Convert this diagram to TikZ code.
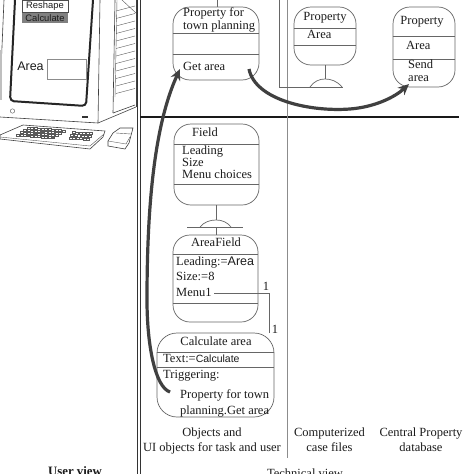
\documentclass[tikz,border=0pt]{standalone}
\usepackage{fontspec}
\setmainfont{Liberation Serif}
\newfontfamily\uifont{Liberation Sans}
\usetikzlibrary{arrows.meta}
\definecolor{ink}{HTML}{1C1C1C}
\definecolor{rule}{HTML}{666666}
\definecolor{flow}{HTML}{404040}
\tikzset{
  objbox/.style={draw=rule,line width=.7pt,rounded corners=17pt,inner sep=0pt},
  divider/.style={draw=rule,line width=.7pt},
  link/.style={draw=rule,line width=.7pt},
  lab/.style={font=\fontsize{12.5}{14}\selectfont,text=ink,inner sep=0pt,anchor=base west},
  labc/.style={font=\fontsize{12.5}{14}\selectfont,text=ink,inner sep=0pt,anchor=base},
  uilab/.style={font=\uifont\fontsize{9.400}{11}\selectfont,text=ink,inner sep=0pt},
  flowarrow/.style={draw=flow,line width=3.2pt,-{Stealth[length=11pt,width=10pt]}},
  pc/.style={draw=black!75,line width=.6pt},
  pcthin/.style={draw=black!65,line width=.4pt},
}
\begin{document}
\begin{tikzpicture}[x=1pt,y=-1pt]
\path[use as bounding box,fill=white] (0,0) rectangle (474,474);
\begin{scope}
\clip (0,0) rectangle (474,474);

% computer: case and screen
\draw[pc] (4,0) -- (1,70);
\fill[black!25] (0,50) rectangle (2,100);
\draw[pc] (100,0) -- (98,123);
\draw[pc] (115,0) -- (113,113);
\draw[pc] (113,113) -- (135,105);
\draw[pc] (0,117) -- (98,123) -- (136,107);
\draw[pc] (136,0) -- (136,107);
\draw[draw=black!85,line width=2pt,rounded corners=4pt] (15,0) -- (10,101) -- (86,106) -- (93,0);
\draw[pcthin] (12.500,111) circle (2.2);
\fill[black!80] (82,116) rectangle (88,118);
% ventilation slats
\foreach \k in {0,...,11}
  \draw[pcthin] (116,{11+\k*7.5}) -- (135,{6+\k*7.5});
\draw[pcthin] (117,0) -- (115,97);
\draw[pcthin] (122,0) -- (136,13);
% screen content
\node[draw=black!70,line width=.5pt,fill=white,minimum width=46pt,minimum height=12pt,inner sep=0pt,uilab] (reshape) at (45,6) {Reshape};
\node[fill=black!50,minimum width=46pt,minimum height=10.500pt,inner sep=0pt,uilab] (calculate) at (45,18) {Calculate};
\node[font=\uifont\fontsize{12.500}{15}\selectfont,text=ink,inner sep=0pt] (arealabel) at (30.500,66) {Area};
\node[draw=black!45,line width=.7pt,minimum width=39pt,minimum height=20pt,inner sep=0pt] (areabox) at (66.500,69) {};
% keyboard
\draw[pc,fill=white] (0,135) -- (23,125) -- (105,131) -- (103,137) -- (90,149) -- (0,139) -- cycle;
\draw[pcthin] (0,137) -- (90,146) -- (104,134);
\foreach \r in {0,1,2,3}
  \foreach \c in {0,...,10}
    \draw[pcthin,fill=white] ({27-3.5*\r+\c*3.5},{127+\r*2.3+\c*.28}) rectangle ++(3,1.9);
\foreach \r in {0,1,2}
  \foreach \c in {0,...,5}
    \draw[pcthin,fill=white] ({72-\r*1.6+\c*3.5},{131.500+\r*2.7+\c*.2}) rectangle ++(3,2.1);
% mouse
\draw[pc,fill=white] (120,128) -- (133,128) -- (129,143) -- (125,149) -- (108,146) -- (108,141) -- (113,133) -- cycle;
\draw[pcthin] (108,141) -- (126,144) -- (130,137);
\draw[pcthin] (116,133) -- (131,134);

% view separators
\draw[draw=black!80,line width=.8pt] (137.500,0) -- (137.500,474);
\draw[draw=black!80,line width=.8pt] (140.500,0) -- (140.500,474);
\coordinate (ruleL) at (140,117);
\coordinate (ruleR) at (459,117);
\draw[draw=black!90,line width=1.2pt] (ruleL) -- (ruleR);
\coordinate (colTop) at (287.500,0);
\coordinate (colBot) at (287.500,458);
\draw[draw=black!45,line width=.7pt] (colTop) -- (colBot);

% Property for town planning
\node[objbox,minimum width=86pt,minimum height=73pt] (planning) at (216,43.500) {};
\draw[divider] (planning.west |- 0,33) -- (planning.east |- 0,33);
\draw[divider] (planning.west |- 0,54) -- (planning.east |- 0,54);
\node[lab] (planningA) at (183,16.700) {Property for};
\node[lab] (planningB) at (183,29.300) {town planning};
\node[lab] (planningC) at (183,70.700) {Get area};
\coordinate (planningTop) at (217,0);
\draw[link] (planningTop) -- (planningTop |- planning.north);

% Property, computerized case file
\node[objbox,minimum width=62pt,minimum height=58pt] (casefile) at (325,36) {};
\draw[divider] (casefile.west |- 0,28) -- (casefile.east |- 0,28);
\draw[divider] (casefile.west |- 0,45) -- (casefile.east |- 0,45);
\node[labc] (casefileA) at (325,20) {Property};
\node[lab] (casefileB) at (307,38.300) {Area};
\coordinate (caseTop) at (325,79);
\coordinate (caseCornerT) at (279,0);
\coordinate (caseCornerB) at (279,87);
\coordinate (caseEnd) at (343,87);
\draw[link] (casefile.south) -- (caseTop);
\draw[link] (caseCornerT) -- (caseCornerB) -- (caseEnd);
\draw[link] (310,87) .. controls (314,81) and (320,79) .. (caseTop) .. controls (331,79) and (337,81) .. (342,87);

% Property, central database
\node[objbox,minimum width=62pt,minimum height=80pt] (central) at (424,47) {};
\draw[divider] (central.west |- 0,36) -- (central.east |- 0,36);
\draw[divider] (central.west |- 0,59) -- (central.east |- 0,59);
\node[labc] (centralA) at (422,24) {Property};
\node[lab] (centralB) at (406,49.300) {Area};
\node[lab] (centralC) at (408,68.300) {Send};
\node[lab] (centralD) at (408,81) {area};

% Field
\node[objbox,minimum width=85pt,minimum height=81pt] (field) at (216.500,164.500) {};
\draw[divider] (field.west |- 0,144) -- (field.east |- 0,144);
\draw[divider] (field.west |- 0,184) -- (field.east |- 0,184);
\node[labc] (fieldA) at (205,136.700) {Field};
\node[lab] (fieldB) at (182,154.300) {Leading};
\node[lab] (fieldC) at (182,166.700) {Size};
\node[lab] (fieldD) at (182,178.300) {Menu choices};

% AreaField
\node[objbox,minimum width=85pt,minimum height=87pt] (areafield) at (215.500,278.500) {};
\draw[divider] (areafield.west |- 0,254) -- (areafield.east |- 0,254);
\draw[divider] (areafield.west |- 0,303.500) -- (areafield.east |- 0,303.500);
\node[labc] (areafieldA) at (216,246.700) {AreaField};
\node[lab] (areafieldB) at (176,265) {Leading:=\uifont Area};
\node[lab] (areafieldC) at (176,280.700) {Size:=8};
\node[lab] (areafieldD) at (176,296) {Menu1};

% inheritance between Field and AreaField
\coordinate (inhTop) at (216,220);
\coordinate (inhL) at (187,227);
\coordinate (inhR) at (243,227);
\draw[link] (field.south -| inhTop) -- (inhTop);
\draw[link] (inhL) -- (inhR);
\draw[link] (200,227) .. controls (204,222) and (210,220) .. (inhTop) .. controls (222,220) and (227,222) .. (231,227);
\draw[link] (216,227) -- (areafield.north -| inhTop);

% Calculate area
\node[objbox,rounded corners=20pt,minimum width=117pt,minimum height=84pt] (calcarea) at (215.500,375) {};
\draw[divider] (calcarea.west |- 0,352) -- (calcarea.east |- 0,352);
\draw[divider] (calcarea.west |- 0,367) -- (calcarea.east |- 0,367);
\node[labc] (calcareaA) at (216,345.700) {Calculate area};
\node[lab] (calcareaB) at (163,362.700) {Text:=\uifont\fontsize{10.500}{13}\selectfont Calculate};
\node[lab] (calcareaC) at (163,378.700) {Triggering:};
\node[lab] (calcareaD) at (180,398.300) {Property for town};
\node[lab] (calcareaE) at (180,414.300) {planning.Get area};

% association from Menu1 to Calculate area
\coordinate (menuElbow) at (269,293.500);
\coordinate (menuStart) at (214,293.500);
\draw[link] (menuStart) -- (menuElbow) -- (calcarea.north -| menuElbow);
\node[labc] (multA) at (266,290) {1};
\node[labc] (multB) at (275,333) {1};

% message flows
\coordinate (triggerStart) at (170,392);
\coordinate (getareaTip) at (180,69);
\coordinate (getareaStart) at (249,69);
\coordinate (sendTip) at (409,84);
\draw[flowarrow] (triggerStart) .. controls (155,387) and (147,345) .. (147,300) .. controls (147,220) and (152,130) .. (getareaTip);
\draw[flowarrow] (getareaStart) .. controls (255,100) and (310,112) .. (350,109) .. controls (375,107) and (395,97) .. (sendTip);

% column captions
\node[labc] (capA) at (212,436) {Objects and};
\node[labc] (capB) at (212,451.700) {UI objects for task and user};
\node[labc] (capC) at (329.500,436) {Computerized};
\node[labc] (capD) at (329.500,451.700) {case files};
\node[labc] (capE) at (421,436) {Central Property};
\node[labc] (capF) at (421,451.700) {database};
\node[labc,font=\fontsize{12.800}{14}\selectfont\bfseries] (capG) at (75,475) {User view};
\node[labc] (capH) at (305,477) {Technical view};
\end{scope}
\end{tikzpicture}
\end{document}
